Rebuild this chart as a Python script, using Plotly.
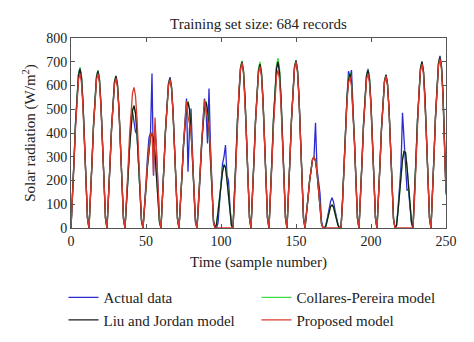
import plotly.graph_objects as go

# Hourly values grouped by day (12 samples per day, last day partial), W/m^2
actual_days = [
    [0, 115, 284, 439, 567, 648, 675, 635, 527, 378, 203, 41],
    [0, 113, 279, 432, 559, 638, 665, 625, 519, 372, 200, 40],
    [0, 109, 269, 416, 538, 614, 640, 602, 499, 358, 192, 38],
    [0, 90, 215, 335, 460, 490, 440, 405, 395, 288, 155, 31],
    [0, 80, 190, 300, 380, 400, 650, 220, 430, 320, 175, 30],
    [0, 108, 267, 413, 533, 610, 635, 597, 495, 356, 191, 38],
    [0, 90, 225, 350, 450, 545, 237, 420, 503, 300, 140, 20],
    [0, 90, 225, 350, 450, 545, 500, 356, 587, 340, 150, 20],
    [0, 0, 20, 100, 190, 270, 300, 349, 220, 200, 90, 10],
    [0, 119, 294, 455, 588, 672, 700, 658, 546, 392, 210, 42],
    [0, 117, 290, 449, 580, 662, 690, 649, 538, 386, 207, 41],
    [0, 119, 294, 455, 588, 672, 700, 658, 546, 392, 210, 42],
    [0, 120, 296, 458, 592, 677, 706, 663, 550, 395, 212, 42],
    [0, 51, 126, 195, 252, 288, 300, 443, 250, 190, 146, 30],
    [0, 0, 15, 45, 80, 110, 128, 110, 75, 40, 15, 0],
    [0, 111, 275, 426, 550, 660, 640, 665, 511, 367, 197, 39],
    [0, 114, 281, 436, 563, 643, 670, 630, 523, 375, 201, 40],
    [0, 110, 271, 419, 542, 619, 645, 606, 503, 361, 194, 39],
    [0, 10, 80, 170, 260, 485, 380, 250, 160, 160, 85, 20],
    [0, 119, 294, 455, 588, 672, 700, 658, 546, 392, 210, 42],
    [0, 123, 305, 471, 609, 696, 725, 682, 566, 380, 150],
]
liu_jordan_days = [
    [0, 114, 281, 436, 563, 643, 670, 630, 523, 375, 201, 40],
    [0, 112, 277, 429, 554, 634, 660, 620, 515, 370, 198, 40],
    [0, 109, 269, 416, 538, 614, 640, 602, 499, 358, 192, 38],
    [0, 88, 216, 335, 433, 494, 515, 484, 402, 288, 155, 31],
    [0, 68, 168, 260, 336, 384, 400, 376, 312, 224, 120, 24],
    [0, 107, 265, 410, 529, 605, 630, 592, 491, 353, 189, 38],
    [0, 90, 223, 345, 445, 509, 530, 498, 413, 297, 159, 32],
    [0, 90, 223, 345, 445, 509, 530, 498, 413, 297, 159, 32],
    [0, 15, 65, 125, 185, 235, 265, 255, 200, 135, 60, 10],
    [0, 119, 294, 455, 588, 672, 700, 658, 546, 392, 210, 42],
    [0, 117, 290, 449, 580, 662, 690, 649, 538, 386, 207, 41],
    [0, 119, 294, 455, 588, 672, 700, 658, 546, 392, 210, 42],
    [0, 120, 296, 458, 592, 677, 705, 663, 550, 395, 212, 42],
    [0, 51, 126, 195, 252, 288, 300, 282, 234, 168, 90, 18],
    [0, 0, 10, 35, 65, 90, 97, 88, 62, 35, 12, 0],
    [0, 110, 273, 423, 546, 624, 650, 611, 507, 364, 195, 39],
    [0, 113, 279, 432, 559, 638, 665, 625, 519, 372, 200, 40],
    [0, 110, 271, 419, 542, 619, 645, 606, 503, 361, 194, 39],
    [0, 10, 70, 150, 228, 288, 322, 318, 258, 178, 90, 25],
    [0, 119, 294, 455, 588, 672, 700, 658, 546, 392, 210, 42],
    [0, 122, 302, 468, 605, 691, 720, 677, 562, 375, 150],
]
collares_pereira_days = [
    [0, 115, 284, 439, 567, 648, 675, 635, 527, 378, 203, 41],
    [0, 113, 279, 432, 559, 638, 665, 625, 519, 372, 200, 40],
    [0, 109, 269, 416, 538, 614, 640, 602, 499, 358, 192, 38],
    [0, 88, 216, 335, 433, 494, 515, 484, 402, 288, 155, 31],
    [0, 68, 168, 260, 336, 384, 400, 376, 312, 224, 120, 24],
    [0, 107, 265, 410, 529, 605, 630, 592, 491, 353, 189, 38],
    [0, 91, 225, 348, 449, 514, 535, 503, 417, 300, 161, 32],
    [0, 91, 225, 348, 449, 514, 535, 503, 417, 300, 161, 32],
    [0, 20, 70, 130, 190, 240, 270, 260, 200, 130, 60, 10],
    [0, 120, 296, 458, 592, 677, 705, 663, 550, 395, 212, 42],
    [0, 119, 294, 455, 588, 672, 700, 658, 546, 392, 210, 42],
    [0, 122, 300, 465, 601, 686, 715, 672, 558, 400, 215, 43],
    [0, 120, 296, 458, 592, 677, 705, 663, 550, 395, 212, 42],
    [0, 51, 126, 195, 252, 288, 300, 282, 234, 168, 90, 18],
    [0, 0, 10, 35, 65, 90, 97, 88, 62, 35, 12, 0],
    [0, 111, 275, 426, 550, 629, 655, 616, 511, 367, 197, 39],
    [0, 114, 281, 434, 561, 641, 668, 628, 521, 374, 200, 40],
    [0, 110, 271, 419, 542, 619, 645, 606, 503, 361, 194, 39],
    [0, 10, 70, 150, 230, 290, 325, 320, 260, 180, 90, 25],
    [0, 119, 294, 455, 588, 672, 700, 658, 546, 392, 210, 42],
    [0, 122, 302, 468, 605, 691, 720, 677, 562, 380, 160],
]
proposed_days = [
    [0, 111, 273, 423, 546, 624, 650, 611, 507, 364, 195, 39],
    [0, 111, 273, 423, 546, 624, 650, 611, 507, 364, 195, 39],
    [0, 107, 265, 410, 529, 605, 630, 592, 491, 353, 189, 38],
    [0, 101, 249, 385, 497, 568, 592, 556, 462, 332, 178, 36],
    [0, 70, 175, 275, 355, 395, 400, 225, 465, 330, 175, 35],
    [0, 106, 263, 406, 525, 600, 625, 588, 488, 350, 188, 38],
    [0, 90, 225, 350, 455, 535, 470, 430, 410, 300, 150, 25],
    [0, 90, 225, 350, 450, 540, 500, 460, 420, 320, 160, 25],
    [0, 0, 0, 0, 0, 0, 0, 0, 0, 0, 0, 0],
    [0, 118, 292, 452, 584, 667, 695, 653, 542, 389, 209, 42],
    [0, 116, 286, 442, 571, 653, 680, 639, 530, 381, 204, 41],
    [0, 113, 279, 432, 559, 638, 665, 625, 519, 372, 200, 40],
    [0, 119, 294, 455, 588, 672, 700, 658, 546, 392, 210, 42],
    [0, 51, 126, 195, 252, 288, 300, 282, 234, 168, 90, 18],
    [0, 0, 0, 0, 0, 0, 0, 0, 0, 0, 0, 0],
    [0, 108, 267, 413, 534, 611, 636, 598, 496, 356, 191, 38],
    [0, 111, 273, 423, 546, 624, 650, 611, 507, 364, 195, 39],
    [0, 109, 269, 416, 538, 614, 640, 602, 499, 358, 192, 38],
    [0, 0, 0, 0, 0, 0, 0, 0, 0, 0, 0, 0],
    [0, 117, 290, 449, 580, 662, 690, 649, 538, 386, 207, 41],
    [0, 121, 299, 463, 598, 684, 712, 669, 555, 370, 140],
]

x_ticks = [0, 50, 100, 150, 200, 250]
y_ticks = [0, 100, 200, 300, 400, 500, 600, 700, 800]


def flatten(days):
    out = []
    for d in days:
        out.extend(d)
    return out


actual = flatten(actual_days)
liu_jordan = flatten(liu_jordan_days)
collares = flatten(collares_pereira_days)
proposed = flatten(proposed_days)
samples = list(range(len(actual)))

FONT = "Liberation Serif"

fig = go.Figure()
series = [
    ("Actual data", actual, "#2b2bd0"),
    ("Collares-Pereira model", collares, "#44dd44"),
    ("Liu and Jordan model", liu_jordan, "#1a1a1a"),
    ("Proposed model", proposed, "#d83a2e"),
]
for name, vals, col in series:
    fig.add_trace(go.Scatter(x=samples, y=vals, mode="lines", name=name,
                             line=dict(color=col, width=1.3)))

axis_common = dict(showline=True, linecolor="#555555", linewidth=1, mirror="ticks",
                   ticks="inside", ticklen=4, tickcolor="#555555", showgrid=False,
                   zeroline=False, tickfont=dict(family=FONT, size=14, color="#222"))

fig.update_layout(
    width=474, height=342,
    margin=dict(l=71, r=28, t=38, b=114, autoexpand=False),
    paper_bgcolor="white", plot_bgcolor="white",
    font=dict(family=FONT, size=15, color="#222"),
    title=dict(text="Training set size: 684 records", x=0.5, xref="paper",
               y=1 - 24 / 342, yref="container", yanchor="middle",
               font=dict(family=FONT, size=15, color="#222")),
    xaxis=dict(range=[0, 250], tickvals=x_ticks,
               title=dict(text="Time (sample number)", standoff=8,
                          font=dict(family=FONT, size=15)),
               **axis_common),
    yaxis=dict(range=[0, 800], tickvals=y_ticks,
               title=dict(text="Solar radiation (W/m<sup>2</sup>)", standoff=6,
                          font=dict(family=FONT, size=15)),
               **axis_common),
    legend=dict(orientation="h", x=-0.02, xanchor="left", y=-0.28, yanchor="top",
                entrywidth=148, entrywidthmode="pixels",
                font=dict(family=FONT, size=15, color="#222"),
                bgcolor="rgba(0,0,0,0)", tracegroupgap=0),
    showlegend=True,
)

fig.write_html("out.html")
